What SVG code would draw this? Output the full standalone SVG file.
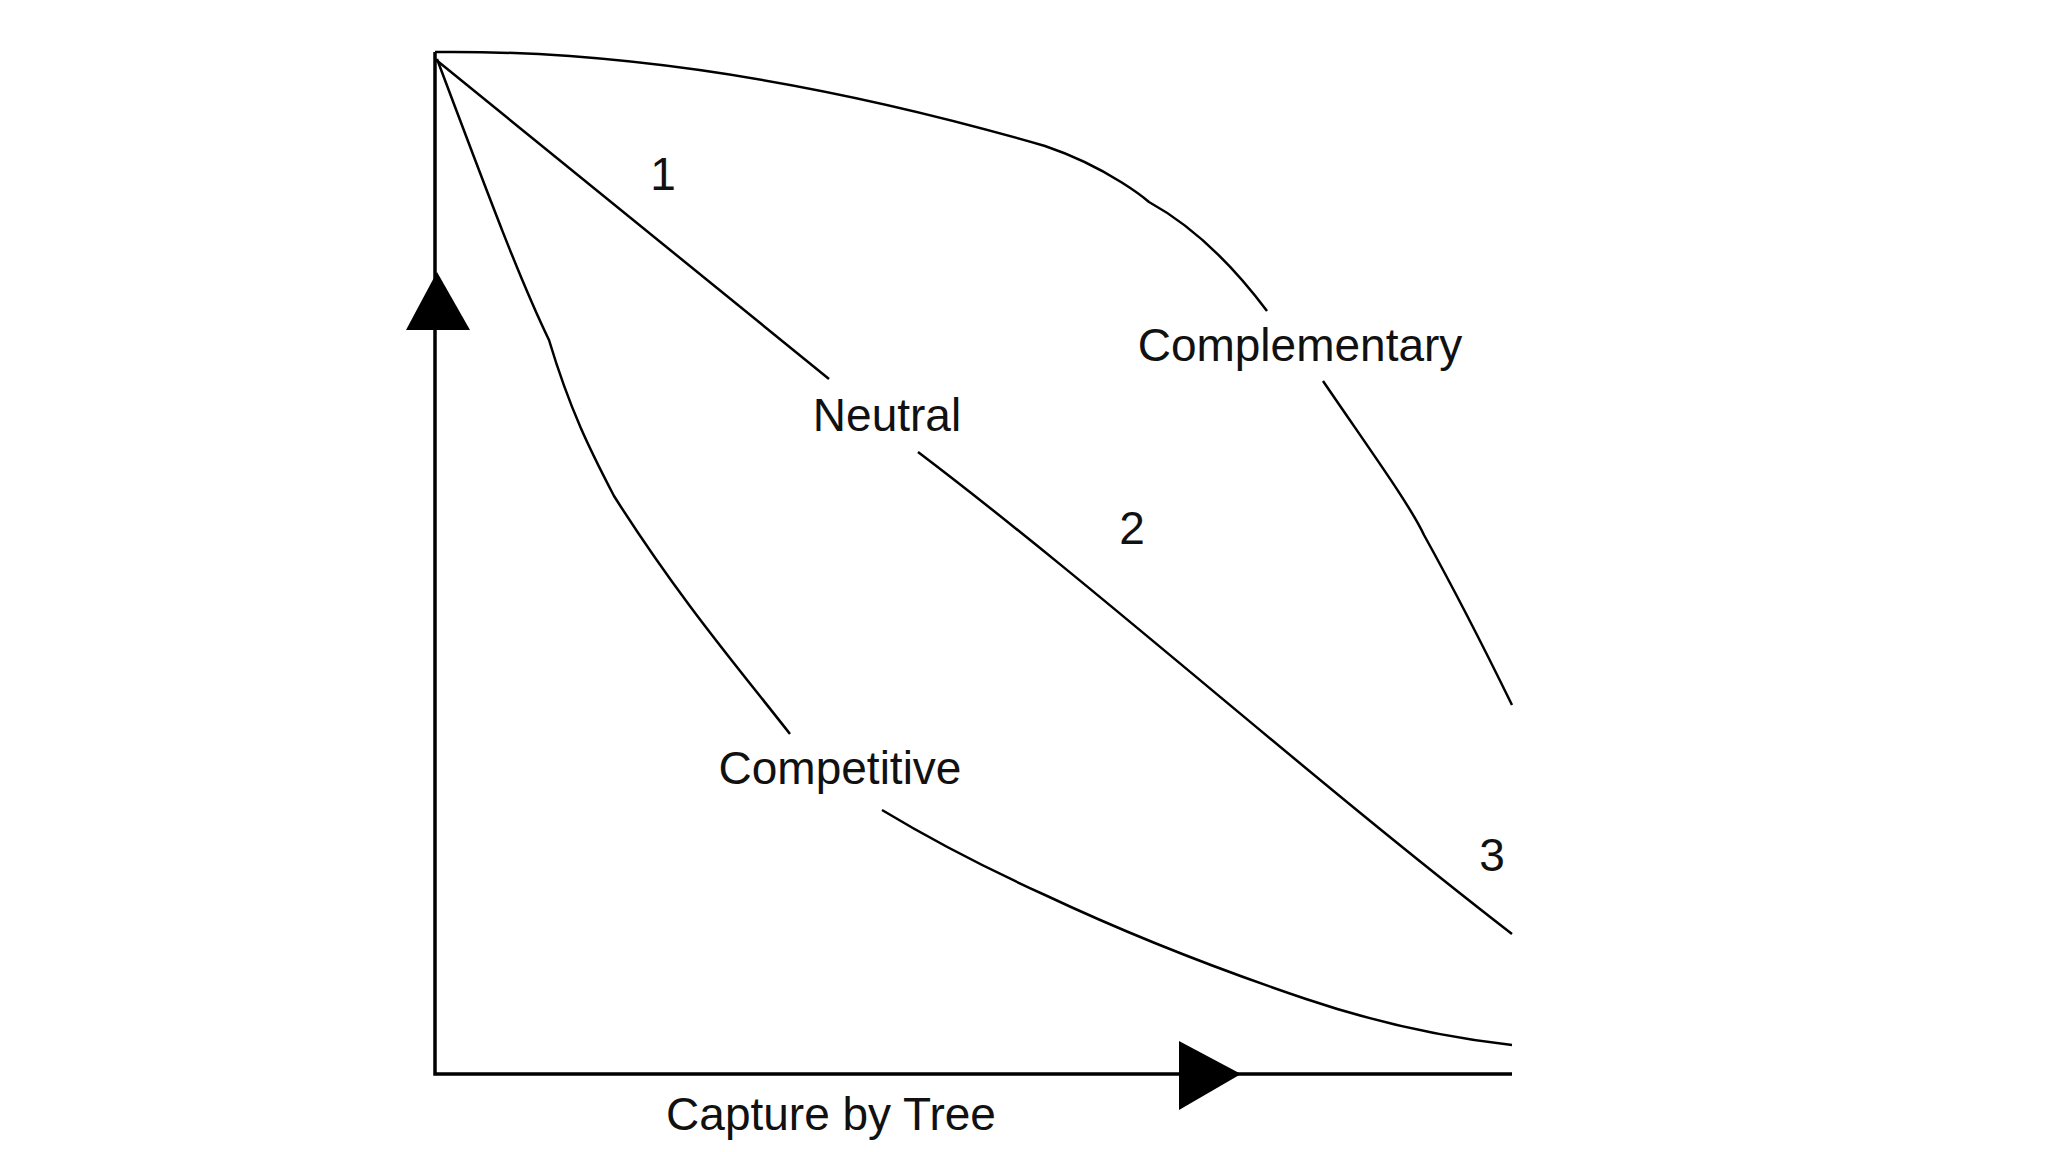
<svg xmlns="http://www.w3.org/2000/svg" width="2048" height="1152" viewBox="0 0 2048 1152">
<style>
.c{fill:none;stroke:#000;stroke-width:2.5}
.a{fill:none;stroke:#000;stroke-width:3.5}
.t{font-family:"Liberation Sans",Arial,sans-serif;font-size:46px;fill:#111;text-anchor:middle}
</style>
<rect width="2048" height="1152" fill="#fff"/>
<g id="axes">
<path class="a" d="M435,52 V1074 H1512"/>
<polygon points="437,272 406,330 470,330" fill="#000"/>
<polygon points="1241,1074 1179,1041 1179,1110" fill="#000"/>
</g>
<g id="connectors">
<path class="c" d="M435,52 C600,50 800,75 1045,146 C1110,168 1149,202 1149,202 C1200,230 1240,275 1267,311"/>
<path class="c" d="M1323,381 C1370,450 1410,505 1424,535 C1460,600 1490,660 1512,705"/>
<path class="c" d="M435,59 L829,379"/>
<path class="c" d="M918,452 C1100,590 1300,770 1512,934"/>
<path class="c" d="M437,59 C490,200 520,280 549,340 C570,410 590,450 614,496 C680,600 740,670 790,734"/>
<path class="c" d="M882,810 C940,845 990,870 1045,895 C1130,935 1220,970 1306,999 C1380,1024 1450,1038 1512,1045"/>
</g>
<g id="labels">
<text class="t" x="663" y="190">1</text>
<text class="t" x="887" y="431">Neutral</text>
<text class="t" x="1300" y="361">Complementary</text>
<text class="t" x="1132" y="544">2</text>
<text class="t" x="840" y="784">Competitive</text>
<text class="t" x="1492" y="871">3</text>
<text class="t" x="831" y="1130">Capture by Tree</text>
</g>
</svg>
